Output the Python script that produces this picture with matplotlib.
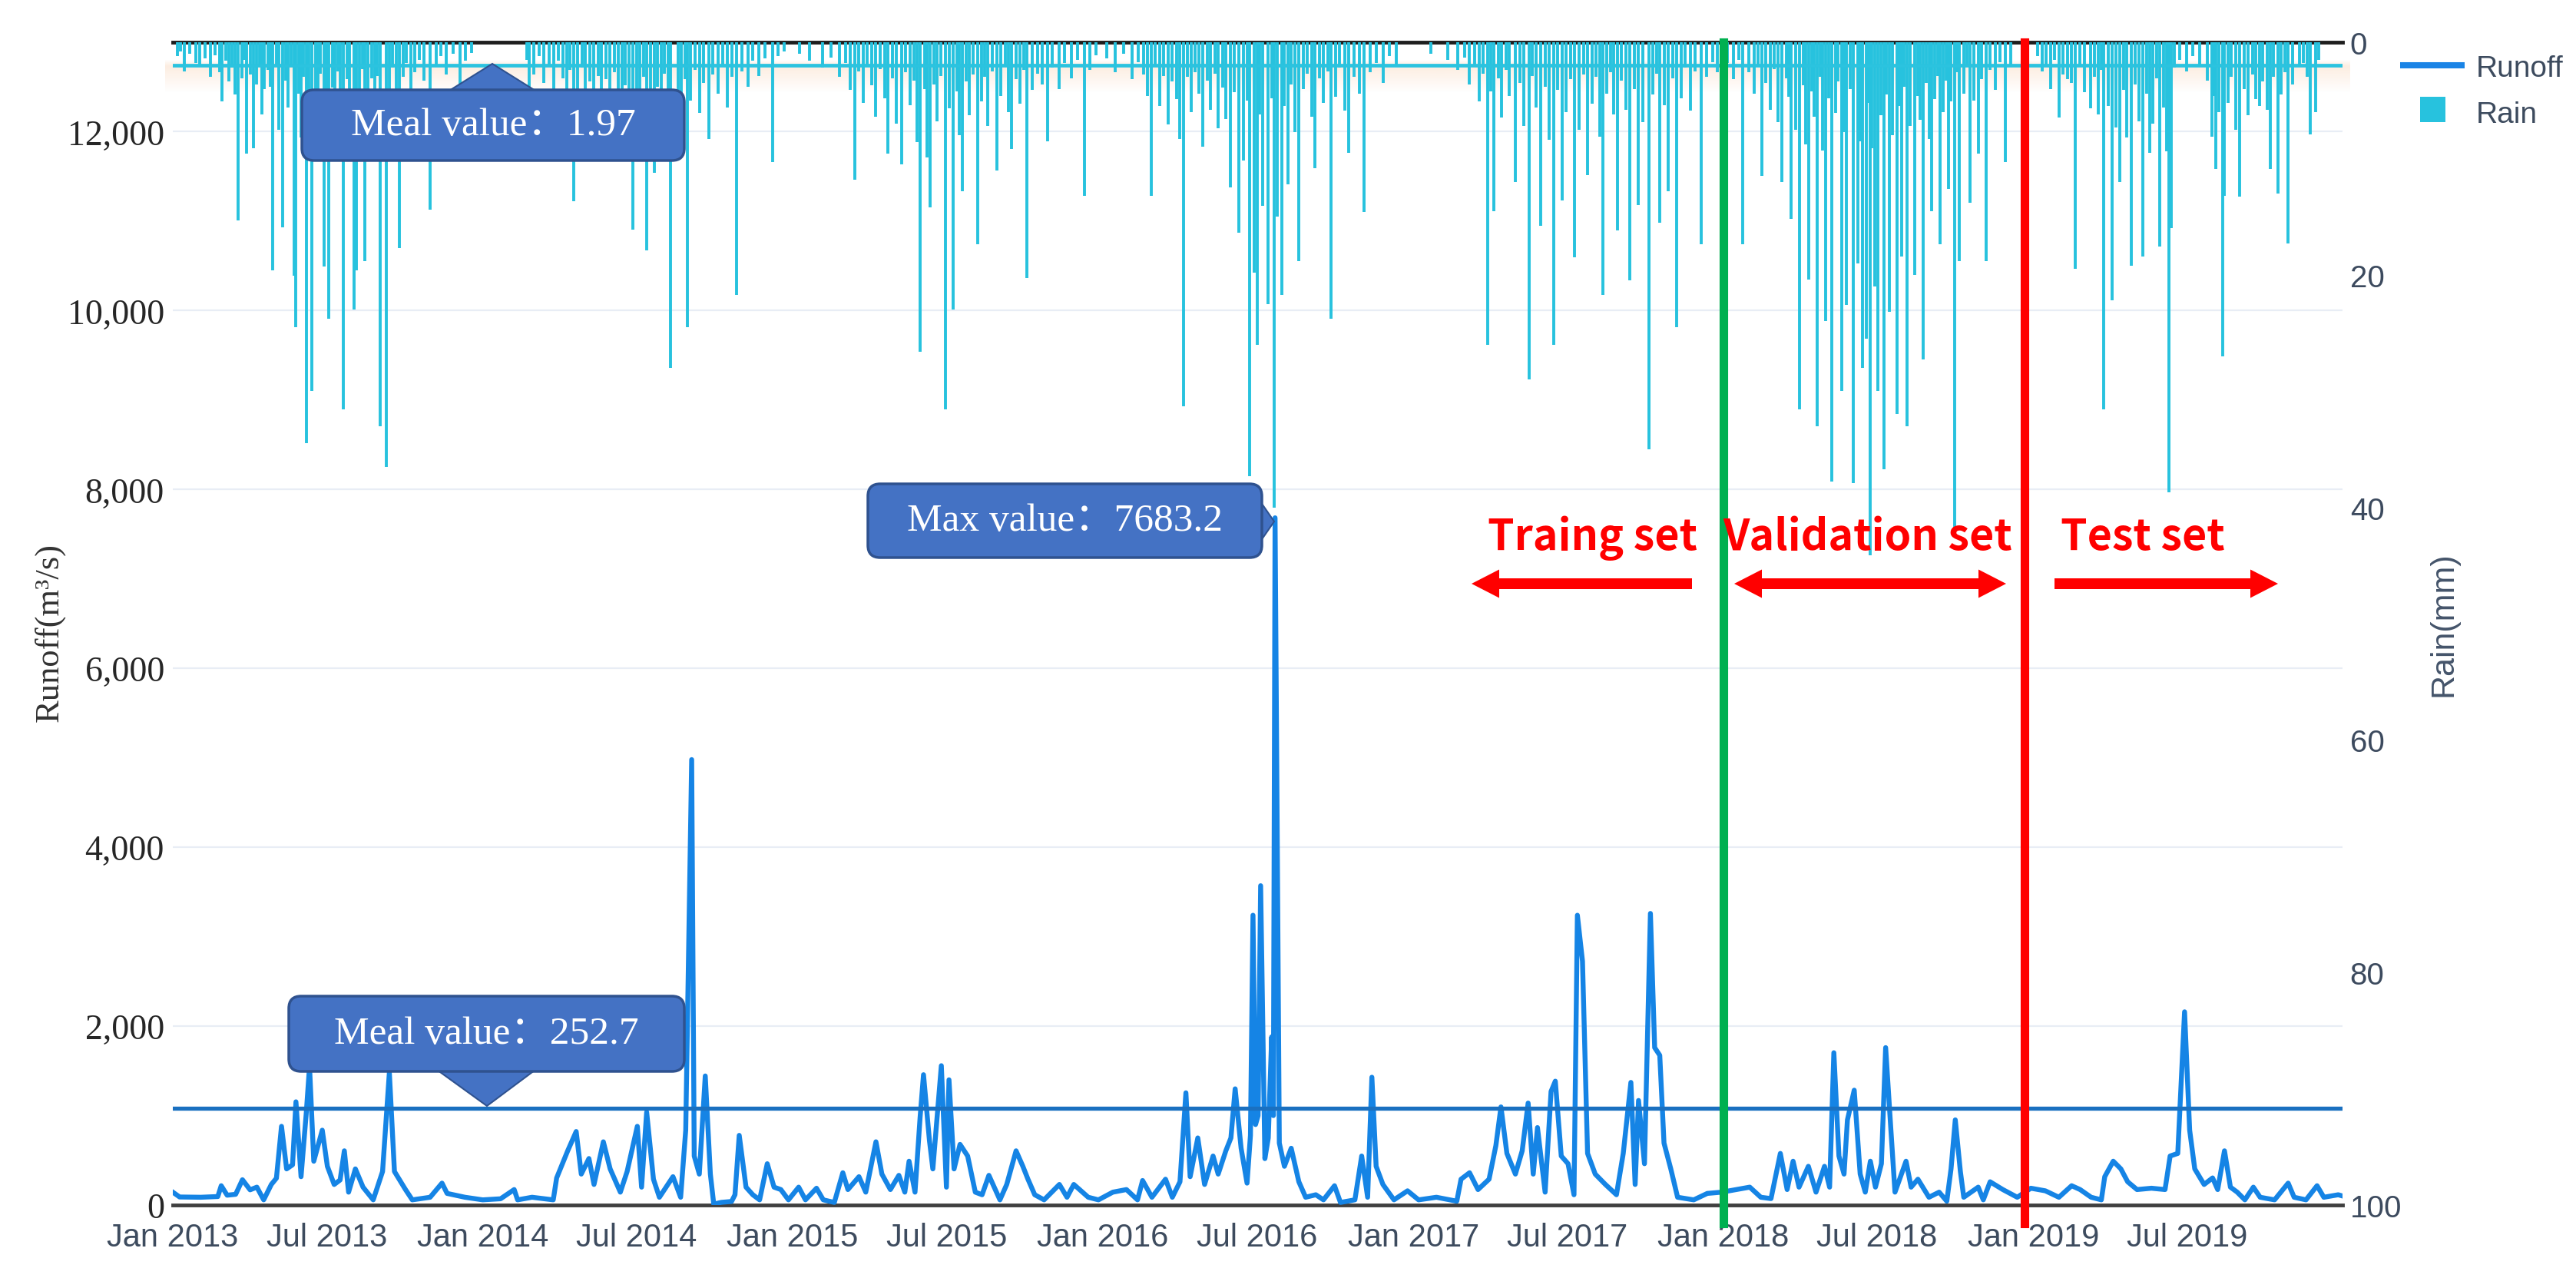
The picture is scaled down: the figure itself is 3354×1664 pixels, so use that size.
import numpy as np
import pandas as pd
import matplotlib
matplotlib.use('Agg')
import matplotlib.pyplot as plt
import matplotlib.dates as mdates
from matplotlib.patches import FancyBboxPatch, Polygon, Rectangle

# ---- data ----
start = pd.Timestamp('2013-01-01')

# daily runoff, sampled at the turning points (days since 2013-01-01, m3/s)
runoff_day = [0, 8, 33, 53, 57, 64, 74, 82, 91, 99, 107, 116, 122, 128, 134, 141, 145, 151, 157, 161,
              166, 176, 182, 190, 197, 202, 207, 215, 224, 236, 247, 255, 261, 274, 282, 303, 317, 323, 344, 365,
              386, 402, 406, 423, 448, 452, 465, 475, 481, 490, 496, 507, 515, 527, 535, 547, 552, 558, 566, 573,
              589, 598, 604, 611, 614, 620, 627, 633, 637, 646, 658, 662, 667, 675, 683, 691, 700, 708, 716, 725,
              737, 745, 758, 766, 779, 789, 795, 808, 816, 828, 835, 845, 855, 862, 867, 874, 880, 884, 891, 895,
              899, 905, 911, 914, 920, 927, 936, 945, 953, 961, 974, 982, 993, 1001, 1007, 1015, 1026, 1044, 1053, 1061,
              1078, 1090, 1107, 1123, 1136, 1142, 1153, 1169, 1177, 1186, 1193, 1198, 1207, 1215, 1225, 1231, 1240, 1246, 1251, 1258,
              1265, 1269, 1272, 1275, 1278, 1281, 1286, 1290, 1294, 1296, 1298, 1303, 1309, 1317, 1326, 1334, 1346, 1355, 1368, 1375,
              1392, 1400, 1407, 1412, 1417, 1425, 1438, 1454, 1467, 1488, 1512, 1517, 1527, 1537, 1550, 1558, 1564, 1571, 1581, 1589,
              1596, 1602, 1607, 1616, 1623, 1628, 1635, 1643, 1650, 1654, 1660, 1666, 1675, 1687, 1700, 1708, 1717, 1722, 1726, 1733,
              1740, 1745, 1751, 1756, 1764, 1772, 1791, 1807, 1824, 1841, 1857, 1870, 1882, 1893, 1901, 1908, 1915, 1926, 1935, 1945,
              1951, 1956, 1962, 1968, 1972, 1980, 1987, 1993, 1999, 2005, 2012, 2017, 2023, 2028, 2041, 2047, 2055, 2068, 2080, 2089,
              2094, 2099, 2105, 2109, 2126, 2132, 2140, 2155, 2172, 2188, 2205, 2221, 2236, 2246, 2259, 2271, 2275, 2285, 2294, 2302,
              2313, 2330, 2346, 2352, 2361, 2369, 2375, 2381, 2392, 2402, 2408, 2416, 2423, 2431, 2440, 2450, 2458, 2475, 2491, 2498,
              2512, 2525, 2533, 2550, 2555]
runoff_flow = [144, 90, 87, 95, 216, 110, 120, 283, 170, 200, 58, 230, 300, 880, 404, 450, 1154, 317, 1010, 1550,
               490, 837, 433, 230, 280, 606, 144, 404, 200, 58, 375, 1480, 375, 173, 58, 87, 245, 130, 87, 58,
               70, 173, 58, 87, 58, 303, 606, 822, 346, 520, 230, 707, 404, 144, 375, 880, 200, 1039, 289, 87,
               317, 87, 837, 4980, 548, 346, 1443, 346, 10, 30, 40, 115, 779, 200, 115, 58, 462, 200, 173, 58,
               200, 58, 188, 58, 29, 361, 173, 317, 144, 707, 346, 173, 332, 144, 490, 144, 981, 1457, 721, 404,
               866, 1558, 200, 1400, 404, 678, 548, 144, 115, 332, 58, 230, 606, 433, 289, 115, 58, 230, 87, 230,
               87, 58, 144, 173, 58, 274, 87, 289, 87, 260, 1255, 317, 750, 230, 548, 346, 606, 750, 1299, 635,
               245, 779, 3240, 900, 1000, 3570, 519, 750, 1880, 1000, 7683.2, 693, 433, 635, 260, 87, 115, 58, 216, 29,
               58, 548, 87, 1429, 433, 230, 58, 159, 58, 87, 43, 289, 361, 173, 289, 664, 1097, 577, 346, 606,
               1140, 346, 866, 144, 1270, 1385, 548, 462, 115, 3240, 2727, 577, 346, 230, 115, 577, 1371, 230, 1169, 462,
               3260, 1760, 1674, 693, 404, 87, 58, 130, 144, 173, 200, 87, 72, 577, 173, 490, 200, 433, 144, 433,
               200, 1703, 548, 346, 952, 1284, 346, 144, 490, 200, 462, 1760, 866, 144, 490, 200, 289, 87, 144, 43,
               404, 952, 375, 87, 200, 58, 260, 173, 87, 188, 159, 87, 216, 173, 87, 58, 317, 490, 404, 260,
               173, 188, 173, 548, 577, 2160, 837, 404, 230, 303, 173, 606, 200, 144, 58, 200, 87, 58, 245, 87,
               58, 216, 87, 115, 101]

# daily rain, (day of year, mm) per year
rain_2013 = [(5, 1.2), (9, 0.8), (14, 2.5), (20, 1.0), (27, 1.8), (32, 2.1), (38, 1.4), (44, 3.0), (50, 1.1), (55, 2.6),
             (58, 5.1), (62, 1.6), (66, 3.4), (70, 2.2), (73, 4.5), (77, 15.3), (81, 3.1), (84, 1.5), (87, 9.6), (91, 2.8),
             (95, 9.1), (99, 3.6), (102, 1.9), (105, 6.2), (108, 4.0), (112, 2.4), (115, 3.8), (118, 19.6), (122, 2.0), (125, 7.5),
             (129, 15.9), (133, 3.3), (136, 5.6), (139, 2.1), (143, 20.1), (145, 24.5), (148, 4.4), (151, 8.2), (154, 3.0), (157, 34.5),
             (160, 6.5), (164, 30.0), (168, 4.1), (171, 9.8), (174, 2.7), (178, 19.3), (181, 5.3), (184, 23.8), (188, 3.9), (191, 7.1),
             (194, 2.5), (197, 4.8), (201, 31.6), (205, 3.2), (208, 6.0), (213, 23.0), (216, 19.6), (220, 4.2), (223, 2.3), (226, 18.8),
             (230, 5.7), (234, 3.1), (238, 8.8), (241, 2.9), (244, 33.0), (251, 36.5), (255, 4.6), (259, 2.2), (263, 6.4), (267, 17.7),
             (271, 3.0), (275, 1.8), (280, 4.9), (285, 2.6), (290, 1.5), (296, 3.3), (303, 14.4), (310, 2.0), (316, 1.2), (322, 2.8),
             (330, 1.0), (338, 6.0), (345, 1.6), (352, 0.9)]
rain_2014 = [(52, 1.5), (55, 5.4), (60, 2.8), (66, 1.2), (72, 3.5), (78, 2.0), (84, 4.2), (89, 1.6), (94, 3.1), (99, 5.8),
             (103, 2.4), (107, 13.7), (112, 4.0), (117, 2.2), (121, 6.6), (126, 3.4), (131, 8.1), (136, 2.9), (140, 4.7), (145, 3.2),
             (150, 7.3), (155, 2.6), (160, 5.1), (164, 9.4), (168, 3.7), (172, 6.2), (177, 16.1), (181, 4.5), (185, 8.8), (189, 3.0),
             (193, 17.9), (198, 5.5), (202, 11.2), (206, 3.8), (210, 6.9), (214, 2.7), (218, 9.6), (221, 28.0), (230, 4.1), (234, 7.4),
             (238, 3.2), (241, 24.5), (245, 5.0), (250, 2.4), (255, 6.1), (260, 3.5), (266, 8.3), (271, 2.8), (277, 4.4), (283, 2.1),
             (288, 5.6), (293, 3.0), (299, 21.7), (305, 2.5), (312, 3.8), (318, 1.6), (325, 2.9), (332, 1.4), (341, 10.3), (348, 1.2),
             (355, 0.8)]
rain_2015 = [(8, 1.0), (20, 1.6), (35, 2.2), (45, 1.3), (55, 3.0), (62, 1.8), (68, 4.1), (73, 11.8), (78, 2.5), (83, 5.2),
             (88, 2.0), (93, 3.7), (98, 6.4), (103, 2.3), (108, 4.8), (112, 9.6), (117, 3.1), (122, 7.0), (128, 10.5), (133, 2.6),
             (138, 5.4), (143, 3.3), (146, 8.6), (150, 26.6), (155, 4.0), (158, 9.9), (162, 14.2), (166, 3.6), (170, 6.8), (174, 2.9),
             (180, 31.6), (184, 5.7), (189, 23.0), (193, 4.2), (196, 8.0), (200, 12.8), (204, 3.4), (208, 6.3), (212, 2.8), (218, 17.4),
             (222, 5.1), (226, 3.0), (230, 7.2), (235, 2.5), (240, 11.0), (245, 4.6), (250, 2.1), (254, 6.0), (258, 9.2), (263, 3.2),
             (268, 5.3), (272, 2.4), (276, 20.3), (282, 4.1), (288, 2.7), (294, 3.6), (300, 8.5), (306, 2.2), (314, 4.0), (320, 1.8),
             (328, 3.1), (335, 1.5), (344, 13.2), (350, 2.4), (357, 1.1)]
rain_2016 = [(5, 1.4), (15, 2.6), (25, 1.0), (35, 3.2), (42, 1.7), (48, 2.8), (53, 4.6), (57, 13.2), (62, 2.0), (67, 5.5),
             (72, 2.9), (77, 7.1), (82, 3.4), (87, 4.9), (91, 8.3), (95, 31.3), (100, 3.0), (104, 6.0), (109, 2.6), (113, 4.4),
             (118, 9.0), (123, 3.3), (127, 5.8), (132, 2.7), (136, 7.4), (141, 3.9), (145, 6.6), (150, 12.5), (155, 4.3), (160, 16.4),
             (166, 10.2), (170, 5.0), (173, 37.3), (178, 19.8), (182, 26.0), (185, 6.2), (188, 14.1), (195, 22.5), (199, 4.8), (202, 40.0),
             (206, 15.0), (211, 21.7), (214, 5.5), (218, 12.2), (222, 3.6), (226, 7.7), (231, 18.8), (236, 4.0), (241, 2.7), (246, 6.4),
             (250, 10.8), (255, 3.1), (260, 5.2), (265, 2.5), (269, 23.8), (274, 4.7), (279, 2.2), (285, 5.9), (290, 9.5), (296, 3.0),
             (302, 4.4), (308, 14.6), (315, 2.6), (322, 1.8), (330, 3.5), (338, 1.2), (346, 2.0)]
rain_2017 = [(20, 1.0), (40, 1.5), (52, 2.4), (60, 1.3), (66, 3.6), (72, 2.0), (77, 5.1), (82, 2.7), (87, 26.0), (91, 4.2),
             (95, 14.5), (100, 3.1), (104, 6.5), (109, 2.4), (113, 4.6), (120, 12.0), (125, 3.5), (130, 7.2), (136, 29.0), (140, 2.9),
             (144, 5.6), (150, 15.8), (155, 3.8), (160, 8.4), (165, 26.0), (170, 4.1), (175, 13.6), (180, 6.0), (185, 3.2), (190, 18.5),
             (195, 7.5), (200, 2.8), (205, 11.4), (210, 5.3), (215, 3.0), (219, 8.1), (223, 21.7), (228, 4.4), (232, 2.6), (236, 6.2),
             (240, 16.2), (245, 3.3), (250, 5.8), (255, 20.5), (260, 4.0), (265, 14.0), (270, 6.9), (277, 35.0), (282, 4.5), (286, 2.7),
             (290, 15.5), (295, 5.4), (300, 12.8), (305, 3.1), (310, 24.5), (315, 4.8), (320, 2.2), (326, 5.9), (332, 2.5), (339, 17.4),
             (345, 3.0), (352, 1.7), (358, 2.6)]
rain_2018 = [(5, 1.8), (12, 3.2), (18, 1.5), (23, 17.4), (30, 2.6), (36, 4.4), (41, 2.0), (45, 11.5), (50, 3.5), (55, 5.8),
             (60, 2.3), (64, 6.9), (69, 12.0), (74, 3.1), (77, 4.7), (80, 15.2), (85, 7.5), (90, 31.6), (94, 3.7), (97, 8.8),
             (100, 20.4), (104, 4.2), (107, 6.4), (110, 33.0), (114, 3.0), (117, 9.3), (120, 24.0), (124, 4.8), (128, 37.8), (132, 6.1),
             (135, 3.4), (139, 30.0), (142, 7.7), (145, 22.6), (149, 4.0), (153, 37.9), (158, 19.0), (161, 8.5), (164, 28.0), (168, 25.5),
             (171, 5.2), (173, 44.1), (175, 9.1), (178, 21.0), (182, 30.0), (185, 6.3), (189, 36.7), (192, 4.5), (195, 23.2), (199, 8.0),
             (204, 32.0), (207, 5.5), (210, 18.4), (213, 3.8), (216, 33.0), (220, 7.2), (225, 20.0), (229, 4.6), (232, 6.7), (235, 27.3),
             (239, 3.5), (242, 8.3), (245, 14.5), (249, 4.9), (252, 2.9), (255, 17.4), (259, 6.0), (262, 3.3), (265, 12.6), (268, 5.1),
             (272, 41.8), (275, 2.6), (278, 18.8), (283, 4.4), (287, 2.1), (290, 13.8), (295, 5.0), (300, 9.6), (304, 3.2), (309, 18.8),
             (314, 2.4), (320, 4.1), (326, 1.7), (332, 10.3), (338, 2.0)]
rain_2019 = [(5, 1.2), (10, 2.5), (15, 2.0), (20, 4.0), (25, 1.5), (30, 6.5), (35, 2.8), (40, 3.2), (45, 3.5), (49, 19.5),
             (55, 2.1), (60, 4.3), (67, 5.7), (72, 3.0), (76, 6.2), (80, 2.4), (83, 31.6), (88, 5.5), (93, 22.2), (97, 7.3),
             (102, 12.0), (106, 4.1), (110, 8.2), (115, 19.2), (120, 3.6), (124, 6.8), (129, 18.4), (133, 4.4), (137, 9.5), (141, 7.0),
             (145, 3.1), (149, 17.6), (153, 5.6), (157, 9.4), (160, 38.7), (162, 16.0), (166, 2.2), (172, 1.5), (180, 2.5), (188, 1.2),
             (196, 2.0), (205, 3.3), (210, 8.1), (212, 4.6), (215, 10.9), (218, 6.0), (223, 27.0), (225, 13.2), (229, 5.2), (233, 3.0),
             (238, 7.5), (243, 13.3), (248, 4.0), (253, 6.3), (258, 2.8), (262, 4.9), (266, 5.5), (270, 3.4), (275, 5.8), (279, 10.9),
             (283, 3.0), (288, 13.0), (292, 4.5), (296, 2.6), (300, 17.3), (305, 3.6), (313, 2.0), (318, 1.8), (322, 3.0), (326, 7.9),
             (332, 6.0), (336, 1.5)]
rain_years = [2013, 2014, 2015, 2016, 2017, 2018, 2019]
rain_lists = [rain_2013, rain_2014, rain_2015, rain_2016, rain_2017, rain_2018, rain_2019]

rain_mean = 1.97            # markline on the rain axis
runoff_markline = 1080      # where the runoff markline is drawn
runoff_mean_text = 252.7    # value printed on its label
runoff_max = 7683.2
split_dates = ['2018-01-01', '2018-12-22']   # train/validation, validation/test

# ---- build series ----
runoff_dates = start + pd.to_timedelta(runoff_day, unit='D')
rain_dates, rain_vals = [], []
for yr, lst in zip(rain_years, rain_lists):
    for doy, mm in lst:
        rain_dates.append(pd.Timestamp(f'{yr}-01-01') + pd.Timedelta(days=doy))
        rain_vals.append(mm)

plt.rcParams['font.family'] = ['Liberation Sans', 'DejaVu Sans']
W, H = 3355, 1665
fig = plt.figure(figsize=(W / 100, H / 100), dpi=100)

# background layer for the soft glow under the top edge
bg = fig.add_axes([0, 0, 1, 1], zorder=0)
bg.set_xlim(0, W); bg.set_ylim(H, 0); bg.axis('off')
prof = np.concatenate([np.linspace(0.0, 0.35, 8), np.linspace(0.35, 0.0, 30)])
glow = np.zeros((len(prof), 1, 4))
glow[:, 0, :3] = np.array([248, 205, 170]) / 255
glow[:, 0, 3] = prof
bg.imshow(glow, extent=(215, 3060, 122, 78), aspect='auto', interpolation='bilinear')

ax = fig.add_axes([225 / W, 1 - 1570 / H, 2825 / W, 1514 / H], zorder=1)
ax.patch.set_alpha(0)
ax2 = ax.twinx()
ax2.set_zorder(2)
ax2.patch.set_alpha(0)

# runoff
ax.plot(runoff_dates, runoff_flow, color='#1584e5', lw=4.6, zorder=3)
ax.axhline(runoff_markline, color='#1a70c0', lw=3.8, zorder=4)
ax.set_ylim(0, 13000)
ax.set_yticks(range(0, 13000, 2000))
ax.set_yticklabels([f'{v:,}' for v in range(0, 13000, 2000)], fontfamily='Liberation Serif')
ax.yaxis.grid(True, color='#e8edf5', lw=1.6)
ax.set_axisbelow(True)
ax.tick_params(axis='y', length=0, pad=8, labelsize=33, labelcolor='#262626')

ax.set_xlim(start, pd.Timestamp('2019-12-31'))
ax.xaxis.set_major_locator(mdates.MonthLocator(bymonth=[1, 7]))
ax.xaxis.set_major_formatter(mdates.DateFormatter('%b %Y'))
ax.tick_params(axis='x', length=0, pad=16, labelsize=30, labelcolor='#3d4b5e')

for s in ['left', 'right']:
    ax.spines[s].set_visible(False)
ax.spines['top'].set_color('#1e1e1e'); ax.spines['top'].set_linewidth(3.5)
ax.spines['bottom'].set_color('#404040'); ax.spines['bottom'].set_linewidth(3.5)

# rain (inverted axis)
ax2.vlines(rain_dates, 0, rain_vals, color='#27c2de', lw=2.8, zorder=2)
ax2.axhline(rain_mean, color='#2bc3df', lw=3.4, zorder=3)
ax2.set_ylim(100, 0)
ax2.set_yticks(range(0, 101, 20))
ax2.tick_params(axis='y', length=0, pad=7, labelsize=29, labelcolor='#3c4a5e')
for s in ax2.spines.values():
    s.set_visible(False)

# split lines
ax2.axvline(pd.Timestamp(split_dates[0]), ymin=-0.016, ymax=1, color='#00b050', lw=8, clip_on=False, zorder=6)
ax2.axvline(pd.Timestamp(split_dates[1]), ymin=-0.016, ymax=1, color='#ff0000', lw=8, clip_on=False, zorder=6)

# ---- overlay in pixel coordinates for callouts, arrows and labels ----
ov = fig.add_axes([0, 0, 1, 1], zorder=5)
ov.set_xlim(0, W); ov.set_ylim(H, 0); ov.axis('off')

box_fc, box_ec = '#4472c4', '#2f528f'
serif = ['Liberation Serif', 'Noto Sans CJK SC']


def callout(x0, y0, x1, y1, tri, text):
    ov.add_patch(Polygon(tri, closed=True, fc=box_fc, ec=box_ec, lw=1.5, zorder=1))
    ov.add_patch(FancyBboxPatch((x0, y0), x1 - x0, y1 - y0, boxstyle='round,pad=0,rounding_size=16',
                                fc=box_fc, ec=box_ec, lw=2.5, zorder=2))
    ov.text((x0 + x1) / 2, (y0 + y1) / 2, text, color='white', fontsize=37, family=serif,
            ha='center', va='center', zorder=3)


callout(393, 118, 891, 210, [(585, 119), (697, 119), (641, 84)], f'Meal value：{rain_mean}')
callout(1130, 631, 1643, 727, [(1641, 654), (1641, 706), (1659, 680)], f'Max value：{runoff_max}')
callout(376, 1298, 891, 1396, [(569, 1394), (697, 1394), (634, 1441)], f'Meal value：{runoff_mean_text}')


def arrow(x_left, x_right, y, left_head, right_head, t=7, hh=18.5, hl=36):
    pts = []
    if left_head:
        pts += [(x_left, y), (x_left + hl, y - hh), (x_left + hl, y - t)]
    else:
        pts += [(x_left, y - t)]
    if right_head:
        pts += [(x_right - hl, y - t), (x_right - hl, y - hh), (x_right, y),
                (x_right - hl, y + hh), (x_right - hl, y + t)]
    else:
        pts += [(x_right, y - t), (x_right, y + t)]
    if left_head:
        pts += [(x_left + hl, y + t), (x_left + hl, y + hh)]
    else:
        pts += [(x_left, y + t)]
    ov.add_patch(Polygon(pts, closed=True, fc='#ff0000', ec='none'))


red_font = dict(color='#ff0000', fontsize=40, fontweight='bold', family=['Noto Sans CJK SC', 'DejaVu Sans'],
                ha='center', va='baseline')
ov.text(2074, 716, 'Traing set', **red_font)
ov.text(2432, 716, 'Validation set', **red_font)
ov.text(2790, 716, 'Test set', **red_font)
arrow(1916, 2203, 761, True, False)
arrow(2258, 2612, 761, True, True)
arrow(2675, 2966, 761, False, True)

# axis titles
ov.text(64, 824, 'Runoff(m³/s)', rotation=90, ha='center', va='center', fontsize=32,
        family='Liberation Serif', color='#333333')
ov.text(3182, 813, 'Rain(mm)', rotation=90, ha='center', va='center', fontsize=31, color='#44546a')

# legend
ov.plot([3125, 3209], [86, 86], color='#1a84e6', lw=5.8, solid_capstyle='butt')
ov.add_patch(Rectangle((3151, 127), 33, 33, fc='#27c2de', ec='none'))
ov.text(3224, 100, 'Runoff', fontsize=28, color='#3d4b5e', va='baseline')
ov.text(3224, 160, 'Rain', fontsize=28, color='#3d4b5e', va='baseline')

fig.savefig('out.png', dpi=100)
